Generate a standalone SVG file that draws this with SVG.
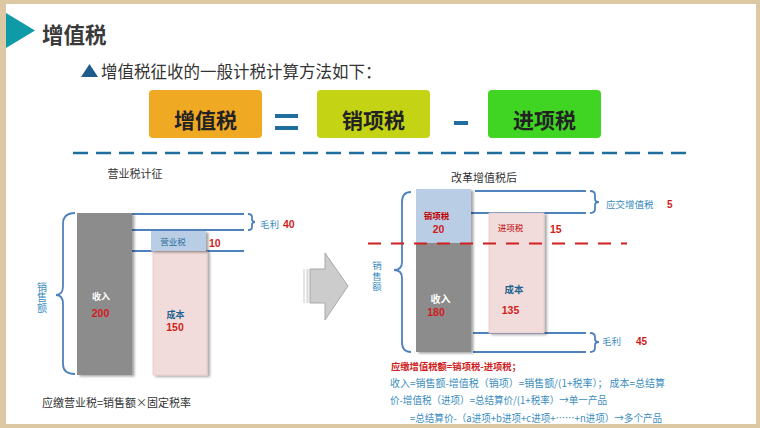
<svg xmlns="http://www.w3.org/2000/svg" width="760" height="428" viewBox="0 0 760 428">
<defs>
<style>
text{font-family:"Liberation Sans","Noto Sans CJK SC",sans-serif;}
.cjk{font-family:"Noto Sans CJK SC","Liberation Sans",sans-serif;}
.blue{fill:#3A8DC0;}
.red{fill:#D01C1C;font-weight:bold;}
.dk{fill:#333;}
.wl{fill:#fff;font-weight:bold;}
.cb{fill:#1F6391;font-weight:bold;}
.ln{stroke:#4F81BD;stroke-width:2;fill:none;}
.br{stroke:#4F81BD;stroke-width:1.8;fill:none;}
.vt{writing-mode:tb;glyph-orientation-vertical:0;}
</style>
<filter id="sh" x="-20%" y="-20%" width="150%" height="150%">
<feDropShadow dx="2.5" dy="1.5" stdDeviation="1.2" flood-color="#000" flood-opacity="0.35"/>
</filter>
</defs>
<rect x="0" y="0" width="760" height="428" fill="#DCC8A2"/>
<rect x="6" y="4" width="750" height="420" fill="#ffffff"/>

<g id="header">
<polygon points="6,13 35,30.5 6,48" fill="#0E9AA7"/>
<text x="42" y="43" class="cjk" font-size="21.5" font-weight="bold" fill="#3a3a3a">增值税</text>
<polygon points="89.5,64 98,77 81,77" fill="#1F5C8B"/>
<text x="101" y="78" class="cjk" font-size="16.5" fill="#333">增值税征收的一般计税计算方法如下：</text>
</g>

<g id="box-zzs">
<rect x="149" y="90" width="113" height="48" rx="4" fill="#F0A922"/>
<text x="205.5" y="122" class="cjk" font-size="21" font-weight="bold" fill="#222" text-anchor="middle" dominant-baseline="middle">增值税</text>
</g>
<g id="op-eq">
<rect x="275" y="114" width="23" height="4" fill="#1F6E9E"/>
<rect x="275" y="126" width="23" height="4" fill="#1F6E9E"/>
</g>
<g id="box-xxs">
<rect x="317" y="90" width="113" height="48" rx="4" fill="#C4D314"/>
<text x="373.5" y="122" class="cjk" font-size="21" font-weight="bold" fill="#222" text-anchor="middle" dominant-baseline="middle">销项税</text>
</g>
<g id="op-minus">
<rect x="454" y="121" width="14" height="4" fill="#1F6E9E"/>
</g>
<g id="box-jxs">
<rect x="488" y="90" width="113" height="48" rx="4" fill="#40D423"/>
<text x="544.5" y="122" class="cjk" font-size="21" font-weight="bold" fill="#222" text-anchor="middle" dominant-baseline="middle">进项税</text>
</g>

<g id="connectors">
<line x1="73" y1="153" x2="691" y2="153" stroke="#1F6E9E" stroke-width="2.5" stroke-dasharray="15 8"/>
<line class="ln" x1="132" y1="214" x2="244" y2="214"/>
<line class="ln" x1="132" y1="230" x2="244" y2="230"/>
<line class="ln" x1="132" y1="251" x2="244" y2="251"/>
<path class="br" d="M75,213 Q63,213 63,224 L63,286 Q63,295 56,295 Q63,295 63,304 L63,364 Q63,374 75,374"/>
<path class="br" d="M248,214 Q252,214 252,217 L252,219 Q252,222 255,222 Q252,222 252,225 L252,227 Q252,230 248,230"/>
<line class="ln" x1="475" y1="191" x2="586" y2="191"/>
<line class="ln" x1="471" y1="213" x2="586" y2="213"/>
<line class="ln" x1="473" y1="333" x2="586" y2="333"/>
<line class="ln" x1="473" y1="352" x2="586" y2="352"/>
<path class="br" d="M411,192 Q402,192 402,202 L402,262 Q402,270 394,270 Q402,270 402,278 L402,342 Q402,352 411,352"/>
<path class="br" d="M590,191 Q595,191 595,195 L595,199 Q595,202 599,202 Q595,202 595,205 L595,209 Q595,213 590,213"/>
<path class="br" d="M590,333 Q595,333 595,337 L595,339 Q595,342 599,342 Q595,342 595,345 L595,348 Q595,352 590,352"/>
</g>

<g id="left-title">
<text x="135" y="178" class="cjk dk" font-size="11" text-anchor="middle">营业税计征</text>
</g>
<g id="left-income">
<rect x="77" y="213" width="55" height="162" fill="#8C8C8C" filter="url(#sh)"/>
<text x="101" y="300" class="cjk wl" font-size="9" text-anchor="middle">收入</text>
<text x="100.5" y="317" class="red" font-size="10.5" text-anchor="middle">200</text>
</g>
<g id="left-cost">
<rect x="153" y="251" width="54" height="124" fill="#F2DCDB" stroke="#E6C8C7" stroke-width="0.8" filter="url(#sh)"/>
<text x="175.5" y="318" class="cjk cb" font-size="9" text-anchor="middle">成本</text>
<text x="175" y="331" class="red" font-size="10.5" text-anchor="middle">150</text>
</g>
<g id="left-tax">
<rect x="151" y="231" width="55" height="20" fill="#B9CDE5" filter="url(#sh)"/>
<text x="173" y="245" class="cjk" font-size="8.5" fill="#2A6FA0" text-anchor="middle">营业税</text>
<text x="209" y="247" class="red" font-size="10.5">10</text>
</g>
<g id="left-labels">
<text x="260" y="228" class="cjk blue" font-size="9.5">毛利</text>
<text x="283" y="228" class="red" font-size="10.5">40</text>
<text x="42" y="282" class="cjk blue vt" font-size="10" letter-spacing="0.7">销售额</text>
<text x="42" y="407" class="cjk dk" font-size="11">应缴营业税=销售额×固定税率</text>
</g>

<g id="arrow">
<rect x="303" y="269" width="2" height="34" fill="#E4E4E4"/>
<rect x="306.5" y="269" width="2" height="34" fill="#D8D8D8"/>
<polygon points="310,269 325,269 325,253 348,286 325,320 325,303 310,303" fill="#CCCCCC" stroke="#A8A8A8" stroke-width="1"/>
</g>

<g id="right-title">
<text x="484" y="182" class="cjk dk" font-size="11" text-anchor="middle">改革增值税后</text>
</g>
<g id="right-output-tax">
<rect x="416" y="189" width="55" height="54" fill="#B9CDE5" filter="url(#sh)"/>
<text x="436.5" y="219" class="cjk" font-size="8.5" font-weight="bold" fill="#C00000" text-anchor="middle">销项税</text>
<text x="438.5" y="233" class="red" font-size="10.5" text-anchor="middle">20</text>
</g>
<g id="right-income">
<rect x="416" y="243" width="55" height="109" fill="#8C8C8C" filter="url(#sh)"/>
<text x="440.5" y="303" class="cjk wl" font-size="10" text-anchor="middle">收入</text>
<text x="436" y="315.5" class="red" font-size="10.5" text-anchor="middle">180</text>
</g>
<g id="right-cost">
<rect x="489" y="213" width="55" height="120" fill="#F2DCDB" stroke="#E6C8C7" stroke-width="0.8" filter="url(#sh)"/>
<text x="510.5" y="231" class="cjk" font-size="8.5" fill="#C00000" text-anchor="middle">进项税</text>
<text x="514" y="292.5" class="cjk cb" font-size="9.5" text-anchor="middle">成本</text>
<text x="510.5" y="314" class="red" font-size="10.5" text-anchor="middle">135</text>
<text x="550" y="233" class="red" font-size="10.5">15</text>
</g>
<g id="red-divider">
<line x1="368" y1="243.5" x2="627" y2="243.5" stroke="#D02020" stroke-width="2" stroke-dasharray="13 10"/>
</g>
<g id="right-labels">
<text x="606" y="207.5" class="cjk blue" font-size="9.5">应交增值税</text>
<text x="667" y="208" class="red" font-size="10">5</text>
<text x="602" y="344.5" class="cjk blue" font-size="9.5">毛利</text>
<text x="636" y="344.5" class="red" font-size="10">45</text>
<text x="377" y="261" class="cjk blue vt" font-size="9.5" letter-spacing="1">销售额</text>
</g>
<g id="right-formulas">
<text x="391" y="370" class="cjk" font-size="9.5" font-weight="bold" fill="#D01C1C" textLength="130" lengthAdjust="spacingAndGlyphs">应缴增值税额=销项税-进项税；</text>
<text x="390" y="387" class="cjk blue" font-size="10" textLength="275" lengthAdjust="spacingAndGlyphs">收入=销售额-增值税（销项）=销售额/(1+税率）； 成本=总结算</text>
<text x="390" y="404" class="cjk blue" font-size="10" textLength="217" lengthAdjust="spacingAndGlyphs">价-增值税（进项）=总结算价/(1+税率）→单一产品</text>
<text x="410" y="421.5" class="cjk blue" font-size="10" textLength="252" lengthAdjust="spacingAndGlyphs">=总结算价-（a进项+b进项+c进项+……+n进项）→多个产品</text>
</g>
</svg>
